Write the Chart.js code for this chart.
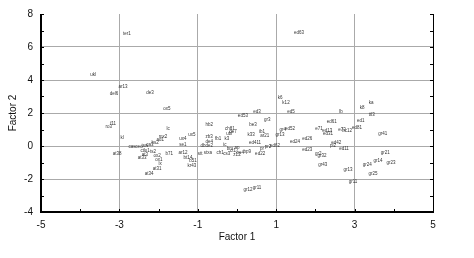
<!DOCTYPE html>
<html>
<head>
<meta charset="utf-8">
<script src="https://cdn.jsdelivr.net/npm/chart.js@4"></script>
<style>
  html, body { margin: 0; padding: 0; background: #fff; }
  #wrap { width: 474px; height: 258px; }
</style>
</head>
<body>
<div id="wrap"><canvas id="factorChart" width="474" height="258"></canvas></div>
<script>
// point labels and factor scores
const labels = ["ter1","ukl","ar13","del6","de3","ox5","ro3","f11","kl","lc",
  "at38","cas","ceo","tsw","ca3","bs2","ad1","mx2","ct","lo1",
  "ts2","at3","at33","ox2","b71","ox1","lx","at31","at34","ux4",
  "ux5","se1","hb2","ch81","de7","ubl","fb1","k3","zb3","de4",
  "dbde2","ic","bm","ap","ar12","bt14","b51","kr43","stt","stxa",
  "ch1","cs3","ct1","be4","z12","bp9","ed53","ed3","be3","gr3",
  "k33","ib1","ar21","ed411","pr","pr2","ed62","ed22","gr13","gr4",
  "ed52","k6","k12","ed5","ed63","ed24","ed26","ed23","e71","ed13",
  "ed31","ed61","e73","bc12","ed81","ed1","lb","k8","ka","ttl3",
  "ed42","pl2","ed11","gr2","gr32","gr43","gr13","gr11","gr41","gr21",
  "gr14","gr23","gr24","gr25","gr12","gr11"];
const factor1 = [-2.81,-3.67,-2.91,-3.14,-2.22,-1.79,-3.27,-3.16,-2.93,-1.76,
  -3.06,-2.68,-2.50,-2.35,-2.22,-2.09,-1.96,-1.89,-2.42,-2.30,
  -2.14,-2.35,-2.42,-2.04,-1.73,-1.99,-1.96,-2.04,-2.24,-1.38,
  -1.15,-1.38,-0.71,-0.18,-0.10,-0.20,-0.48,-0.26,-0.71,-0.71,
  -0.77,-0.31,-0.18,0.00,-1.38,-1.25,-1.12,-1.15,-0.94,-0.74,
  -0.43,-0.26,-0.10,0.08,0.00,0.26,0.15,0.51,0.41,0.77,
  0.36,0.64,0.71,0.46,0.64,0.79,0.97,0.59,1.10,1.17,
  1.35,1.10,1.25,1.38,1.58,1.48,1.79,1.79,2.09,2.30,
  2.32,2.42,2.68,2.81,3.06,3.16,2.65,3.19,3.42,3.44,
  2.53,2.45,2.73,2.07,2.17,2.19,2.83,2.96,3.72,3.78,
  3.60,3.93,3.32,3.47,0.28,0.51];
const factor2 = [6.79,4.32,3.56,3.15,3.21,2.26,1.15,1.32,0.50,1.03,
  -0.50,-0.03,-0.03,0.03,0.09,0.21,0.38,0.56,-0.26,-0.26,
  -0.32,-0.56,-0.74,-0.62,-0.50,-0.85,-1.09,-1.38,-1.68,0.44,
  0.68,0.09,1.26,1.03,0.85,0.74,0.44,0.44,0.56,0.26,
  0.03,0.09,-0.15,-0.09,-0.38,-0.74,-0.91,-1.21,-0.50,-0.38,
  -0.38,-0.50,-0.26,-0.38,-0.56,-0.32,1.85,2.09,1.26,1.56,
  0.68,0.85,0.62,0.21,-0.15,-0.03,0.03,-0.50,0.68,0.97,
  1.03,2.91,2.62,2.09,6.85,0.26,0.44,-0.21,1.03,0.91,
  0.74,1.44,0.97,0.91,1.09,1.50,2.09,2.32,2.62,1.91,
  0.21,0.03,-0.15,-0.50,-0.62,-1.15,-1.44,-2.15,0.74,-0.38,
  -0.91,-1.03,-1.15,-1.68,-2.68,-2.56];

const xTicks = [-5, -3, -1, 1, 3, 5];
const yTicks = [-4, -2, 0, 2, 4, 6, 8];

const points = factor1.map((v, i) => ({ x: v, y: factor2[i], name: labels[i] }));

// writes each case name at its point
const pointNames = {
  id: "pointNames",
  afterDatasetsDraw(chart) {
    const ctx = chart.ctx;
    const meta = chart.getDatasetMeta(0);
    ctx.save();
    ctx.font = "4.5px 'Liberation Sans', Arial, sans-serif";
    ctx.fillStyle = "#333";
    ctx.textAlign = "center";
    ctx.textBaseline = "middle";
    meta.data.forEach((el, i) => {
      ctx.fillText(points[i].name, el.x, el.y);
    });
    ctx.restore();
  }
};

// frame with inward tick marks, like the original
const frame = {
  id: "frame",
  afterDraw(chart) {
    const { ctx, chartArea: a, scales } = chart;
    ctx.save();
    ctx.strokeStyle = "#000";
    ctx.lineWidth = 1;
    ctx.beginPath();
    ctx.moveTo(a.right + 0.5, a.top);
    ctx.lineTo(a.right + 0.5, a.bottom);
    for (let v = -5; v <= 5; v++) {
      const px = Math.round(scales.x.getPixelForValue(v)) + 0.5;
      ctx.moveTo(px, a.bottom);
      ctx.lineTo(px, a.bottom - 3);
    }
    for (let v = -4; v <= 8; v++) {
      const py = Math.round(scales.y.getPixelForValue(v)) + 0.5;
      ctx.moveTo(a.left, py);
      ctx.lineTo(a.left + 3, py);
      ctx.moveTo(a.right, py);
      ctx.lineTo(a.right - 3, py);
    }
    ctx.stroke();
    ctx.lineWidth = 2;
    ctx.beginPath();
    ctx.moveTo(a.left, a.top);
    ctx.lineTo(a.left, a.bottom);
    ctx.lineTo(a.right + 1, a.bottom);
    ctx.stroke();
    ctx.restore();
  }
};

const gridColor = (ticks) => (c) =>
  ticks.includes(c.tick.value) && c.index > 0 && c.index < ticks.length - 1 ? "#aaa" : "rgba(0,0,0,0)";

new Chart(document.getElementById("factorChart"), {
  type: "scatter",
  data: {
    datasets: [{
      data: points,
      pointRadius: 0,
      pointHoverRadius: 0
    }]
  },
  plugins: [pointNames, frame],
  options: {
    responsive: false,
    animation: false,
    layout: { padding: { left: 7, top: 8, right: 41, bottom: 0 } },
    plugins: { legend: { display: false }, tooltip: { enabled: false } },
    scales: {
      x: {
        type: "linear",
        min: -5, max: 5,
        afterBuildTicks: (s) => { s.ticks = xTicks.map(v => ({ value: v })); },
        afterFit: (s) => { s.height = 46; },
        border: { display: false },
        grid: { color: gridColor(xTicks), borderDash: [1, 2], drawTicks: false, lineWidth: 1 },
        ticks: { color: "#111", padding: 7, font: { family: "'Liberation Sans', Arial", size: 10 } },
        title: { display: true, text: "Factor 1", color: "#111", padding: { top: 3, bottom: 15 },
                 font: { family: "'Liberation Sans', Arial", size: 10 } }
      },
      y: {
        type: "linear",
        min: -4, max: 8,
        afterBuildTicks: (s) => { s.ticks = yTicks.map(v => ({ value: v })); },
        afterFit: (s) => { s.width = 34; },
        border: { display: false },
        grid: { color: gridColor(yTicks), borderDash: [1, 2], drawTicks: false, lineWidth: 1 },
        ticks: { color: "#111", padding: 8, font: { family: "'Liberation Sans', Arial", size: 10 } },
        title: { display: true, text: "Factor 2", color: "#111", padding: { top: 0, bottom: 4 },
                 font: { family: "'Liberation Sans', Arial", size: 10 } }
      }
    }
  }
});
</script>
</body>
</html>
